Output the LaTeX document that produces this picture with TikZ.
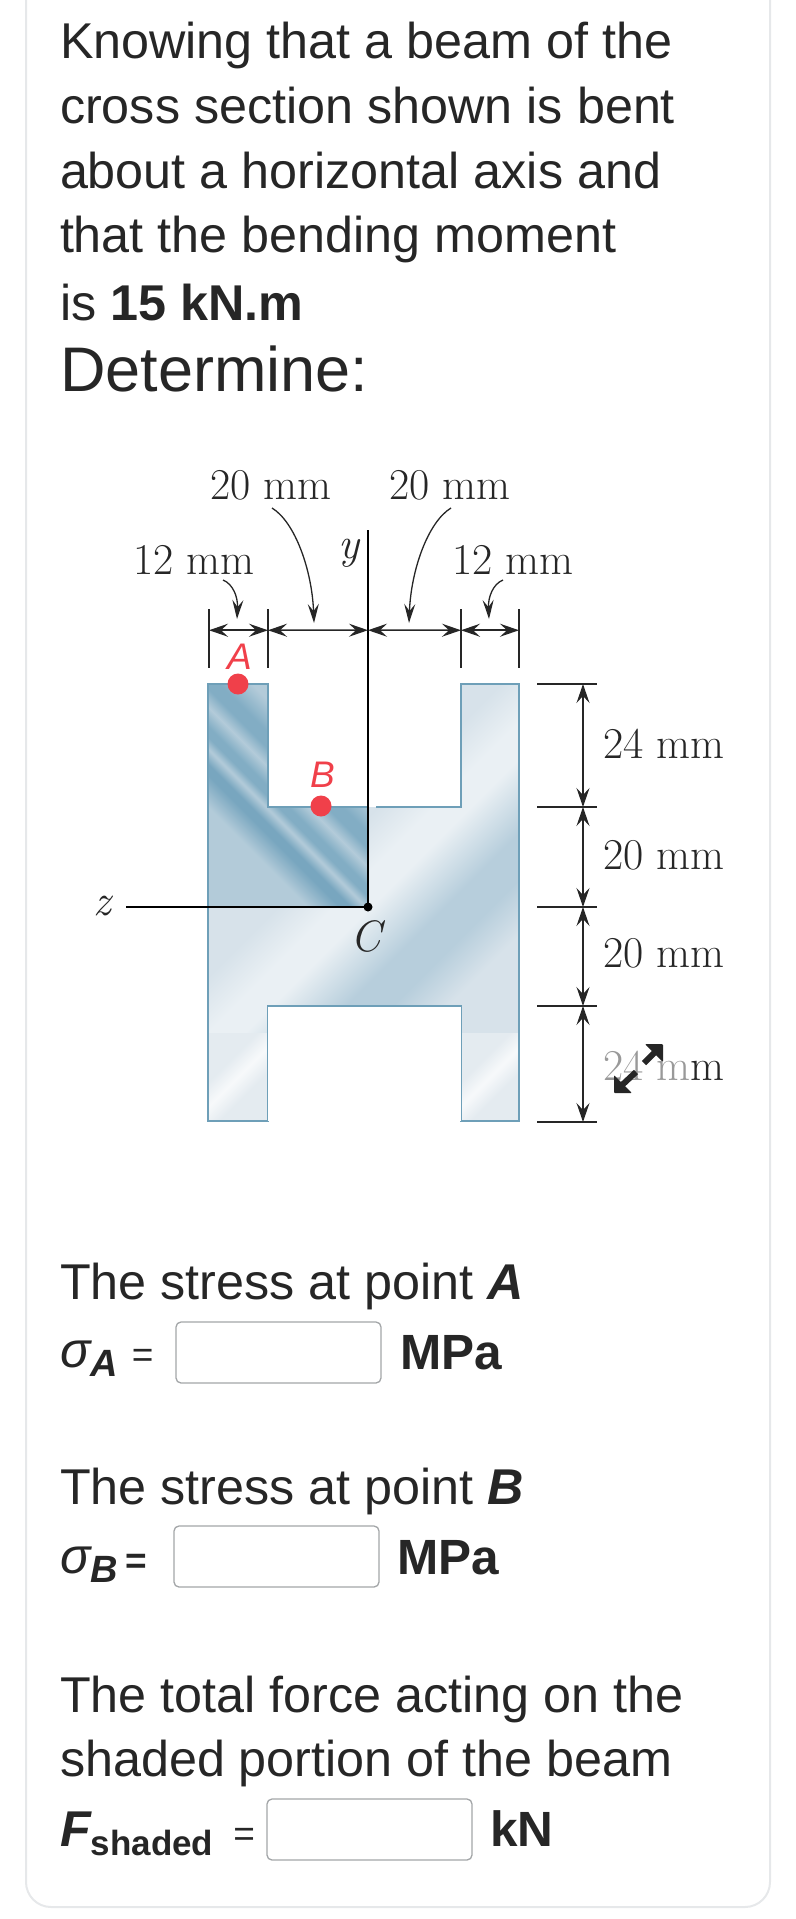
\documentclass[tikz,border=0pt]{standalone}
\usepackage{fontspec}
\usetikzlibrary{arrows.meta,calc}
\newfontfamily\uifont{Liberation Sans}
\definecolor{inkgrey}{HTML}{262626}
\definecolor{edgeblue}{HTML}{6E9FB8}
\definecolor{pointred}{HTML}{F0404A}
\definecolor{cardline}{HTML}{E6E8EA}
\definecolor{boxline}{HTML}{A3A6A8}
\definecolor{sdark}{HTML}{78A6BF}
\definecolor{smid}{HTML}{82ADC4}
\definecolor{slight}{HTML}{B3CBD9}
\definecolor{bpale}{HTML}{EAF0F4}
\definecolor{bmid}{HTML}{B7CEDC}
\definecolor{bside}{HTML}{D7E2EA}
\definecolor{legpale}{HTML}{E4EBF0}
\pgfdeclarehorizontalshading{shadedpart}{100bp}{color(0bp)=(slight); color(33bp)=(slight); color(39bp)=(sdark); color(41bp)=(sdark); color(43.8bp)=(slight); color(46bp)=(smid); color(48bp)=(smid); color(51.6bp)=(slight); color(55bp)=(smid); color(58bp)=(smid); color(64bp)=(slight); color(100bp)=(slight)}
\pgfdeclarehorizontalshading{bodypart}{100bp}{color(0bp)=(bside); color(46bp)=(bside); color(52bp)=(bpale); color(56bp)=(bpale); color(64bp)=(bmid); color(69bp)=(bmid); color(75bp)=(bside); color(100bp)=(bside)}
\pgfdeclarehorizontalshading{legpart}{100bp}{color(0bp)=(legpale); color(38bp)=(legpale); color(50bp)=(white!70!legpale); color(62bp)=(legpale); color(100bp)=(legpale)}
\begin{document}
\begin{tikzpicture}[x=1pt,y=-1pt]
\tikzstyle{every node}=[inner sep=0pt,outer sep=0pt,text=inkgrey]
\tikzstyle{prose}=[anchor=base west,font=\fontsize{50.3}{60}\uifont]
\tikzstyle{unitlabel}=[anchor=base west,font=\fontsize{49.5}{60}\uifont\bfseries]
\tikzstyle{dimlabel}=[font=\fontsize{44}{52}\selectfont]
\tikzstyle{redlabel}=[text=pointred,font=\fontsize{37}{44}\uifont\itshape]
\tikzstyle{inputbox}=[draw=boxline,line width=1.3pt,fill=white,rounded corners=5pt,minimum width=205pt,minimum height=61pt,anchor=north west]
\tikzstyle{dimline}=[inkgrey,line width=1.5pt,{Stealth[length=19pt,width=13pt,inset=7pt]}-{Stealth[length=19pt,width=13pt,inset=7pt]}]
\tikzstyle{leader}=[inkgrey,line width=1.3pt,-{Stealth[length=19pt,width=11pt,inset=7pt]}]
\tikzstyle{tickline}=[inkgrey,line width=1.5pt]
\useasboundingbox (0,0) rectangle (795,1919);
% card
\draw[cardline,line width=2pt,rounded corners=25pt] (26,-10) -- (26,1907) -- (770,1907) -- (770,-10);
% question text
\node[prose] (line1) at (60,59) {Knowing that a beam of the};
\node[prose] (line2) at (60,123) {cross section shown is bent};
\node[prose] (line3) at (60,188) {about a horizontal axis and};
\node[prose] (line4) at (60,252) {that the bending moment};
\node[prose] (line5) at (60,320) {is {\bfseries 15 kN.m}};
\node[prose,font=\fontsize{63}{70}\uifont] (determine) at (60,391) {Determine:};
% beam
\shade[shading=bodypart,shading angle=-45] (461,684) -- (519,684) -- (519,1033) -- (208,1033) -- (208,907) -- (368,907) -- (368,807) -- (461,807) -- cycle;
\shade[shading=legpart,shading angle=-45] (208,1033) rectangle (268,1121);
\shade[shading=legpart,shading angle=-45] (461,1033) rectangle (519,1121);
\shade[shading=shadedpart,shading angle=45] (208,684) -- (268,684) -- (268,807) -- (368,807) -- (368,907) -- (208,907) -- cycle;
\draw[edgeblue,line width=2pt] (376,807) -- (461,807) -- (461,684) -- (519,684) -- (519,1121) -- (461,1121) -- (461,1006) -- (268,1006) -- (268,1121) -- (208,1121) -- (208,684) -- (268,684) -- (268,807) -- (368,807);
\fill[white] (268,1006.9) rectangle (461,1121);
% axes
\coordinate (ytop) at (368,530);
\coordinate (zleft) at (126,907);
\node[circle,fill=black,minimum size=9pt] (cpoint) at (368,907) {};
\draw[black,line width=1.7pt] (ytop) -- (cpoint.center);
\draw[black,line width=1.7pt] (zleft) -- (cpoint.center);
\node[dimlabel] (ylabel) at (350,553) {\textit{y}};
\node[dimlabel] (zlabel) at (104,906) {\textit{z}};
\node[dimlabel] (clabel) at (368,936) {\textit{C}};
% points
\node[circle,fill=pointred,minimum size=21pt] (pointa) at (238,684) {};
\node[circle,fill=pointred,minimum size=21pt] (pointb) at (321,806) {};
\node[redlabel] (labela) at (240,657) {A};
\node[redlabel] (labelb) at (323,775) {B};
% top dimensions
\foreach \n/\x in {ta/209,tb/268,tc/461,td/519}
  \draw[tickline] (\x,609) -- (\x,668) coordinate[pos=0.36] (\n);
\coordinate (ty) at (368,630.2);
\draw[dimline] (ta) -- (tb);
\draw[dimline] (tb) -- (ty);
\draw[dimline] (ty) -- (tc);
\draw[dimline] (tc) -- (td);
\node[dimlabel] (topa) at (271,485) {20 mm};
\node[dimlabel] (topb) at (450,485) {20 mm};
\node[dimlabel] (topc) at (194,560) {12 mm};
\node[dimlabel] (topd) at (513,560) {12 mm};
\coordinate (la) at (223,580);
\coordinate (lb) at (272,508);
\coordinate (lc) at (451,508);
\coordinate (ld) at (503,580);
\coordinate (ea) at (237,619);
\coordinate (eb) at (314,623);
\coordinate (ec) at (409,623);
\coordinate (ed) at (489,619);
\draw[leader] (la) .. controls (233,584) and (238,597) .. (ea);
\draw[leader] (lb) .. controls (295,522) and (312,570) .. (eb);
\draw[leader] (lc) .. controls (428,522) and (411,570) .. (ec);
\draw[leader] (ld) .. controls (493,584) and (488,597) .. (ed);
% right dimensions
\foreach \n/\y in {ra/684,rb/807,rc/907,rd/1006,re/1122}{
  \draw[tickline,line width=2pt] (537,\y) -- (597,\y);
  \coordinate (\n) at (583,\y);
}
\draw[dimline] (ra) -- (rb);
\draw[dimline] (rb) -- (rc);
\draw[dimline] (rc) -- (rd);
\draw[dimline] (rd) -- (re);
\node[dimlabel,anchor=base west] (righta) at (603,758) {24 mm};
\node[dimlabel,anchor=base west] (rightb) at (603,869) {20 mm};
\node[dimlabel,anchor=base west] (rightc) at (603,967) {20 mm};
\node[dimlabel,anchor=base west] (rightd) at (603,1080) {{\color{black!40}24 m}m};
% resize cursor
\fill[inkgrey,rounded corners=1pt] (663,1044) -- (645,1044) -- (663,1062) -- cycle;
\fill[inkgrey,rounded corners=1pt] (614,1093) -- (614,1075) -- (632,1093) -- cycle;
\draw[inkgrey,line width=6pt] (656,1051) -- (644,1063);
\draw[inkgrey,line width=6pt] (621,1086) -- (636,1072);
% answers
\node[prose] (asklinea) at (60,1299) {The stress at point {\bfseries\itshape A}};
\node[prose] (sigmaa) at (60,1367) {\itshape σ{\fontsize{38}{40}\selectfont\raisebox{-9pt}{\bfseries A}}\hspace{14pt}\upshape\fontsize{37}{40}\selectfont =};
\node[inputbox] (boxa) at (176,1322) {};
\node[unitlabel] (unita) at (400,1369) {MPa};
\node[prose] (asklineb) at (60,1504) {The stress at point {\bfseries\itshape B}};
\node[prose] (sigmab) at (60,1573) {\itshape σ{\fontsize{38}{40}\selectfont\raisebox{-9pt}{\bfseries B}}\hspace{8pt}\upshape\bfseries\fontsize{37}{40}\selectfont =};
\node[inputbox] (boxb) at (174,1526) {};
\node[unitlabel] (unitb) at (397,1574) {MPa};
\node[prose] (asklinec) at (60,1712) {The total force acting on the};
\node[prose] (asklined) at (60,1776) {shaded portion of the beam};
\node[prose] (force) at (60,1846) {{\bfseries\itshape F}{\fontsize{35}{40}\selectfont\raisebox{-9pt}{\bfseries shaded}}\hspace{20pt}\fontsize{37}{40}\selectfont =};
\node[inputbox] (boxc) at (267,1799) {};
\node[unitlabel] (unitc) at (490,1846) {kN};
\end{tikzpicture}
\end{document}
